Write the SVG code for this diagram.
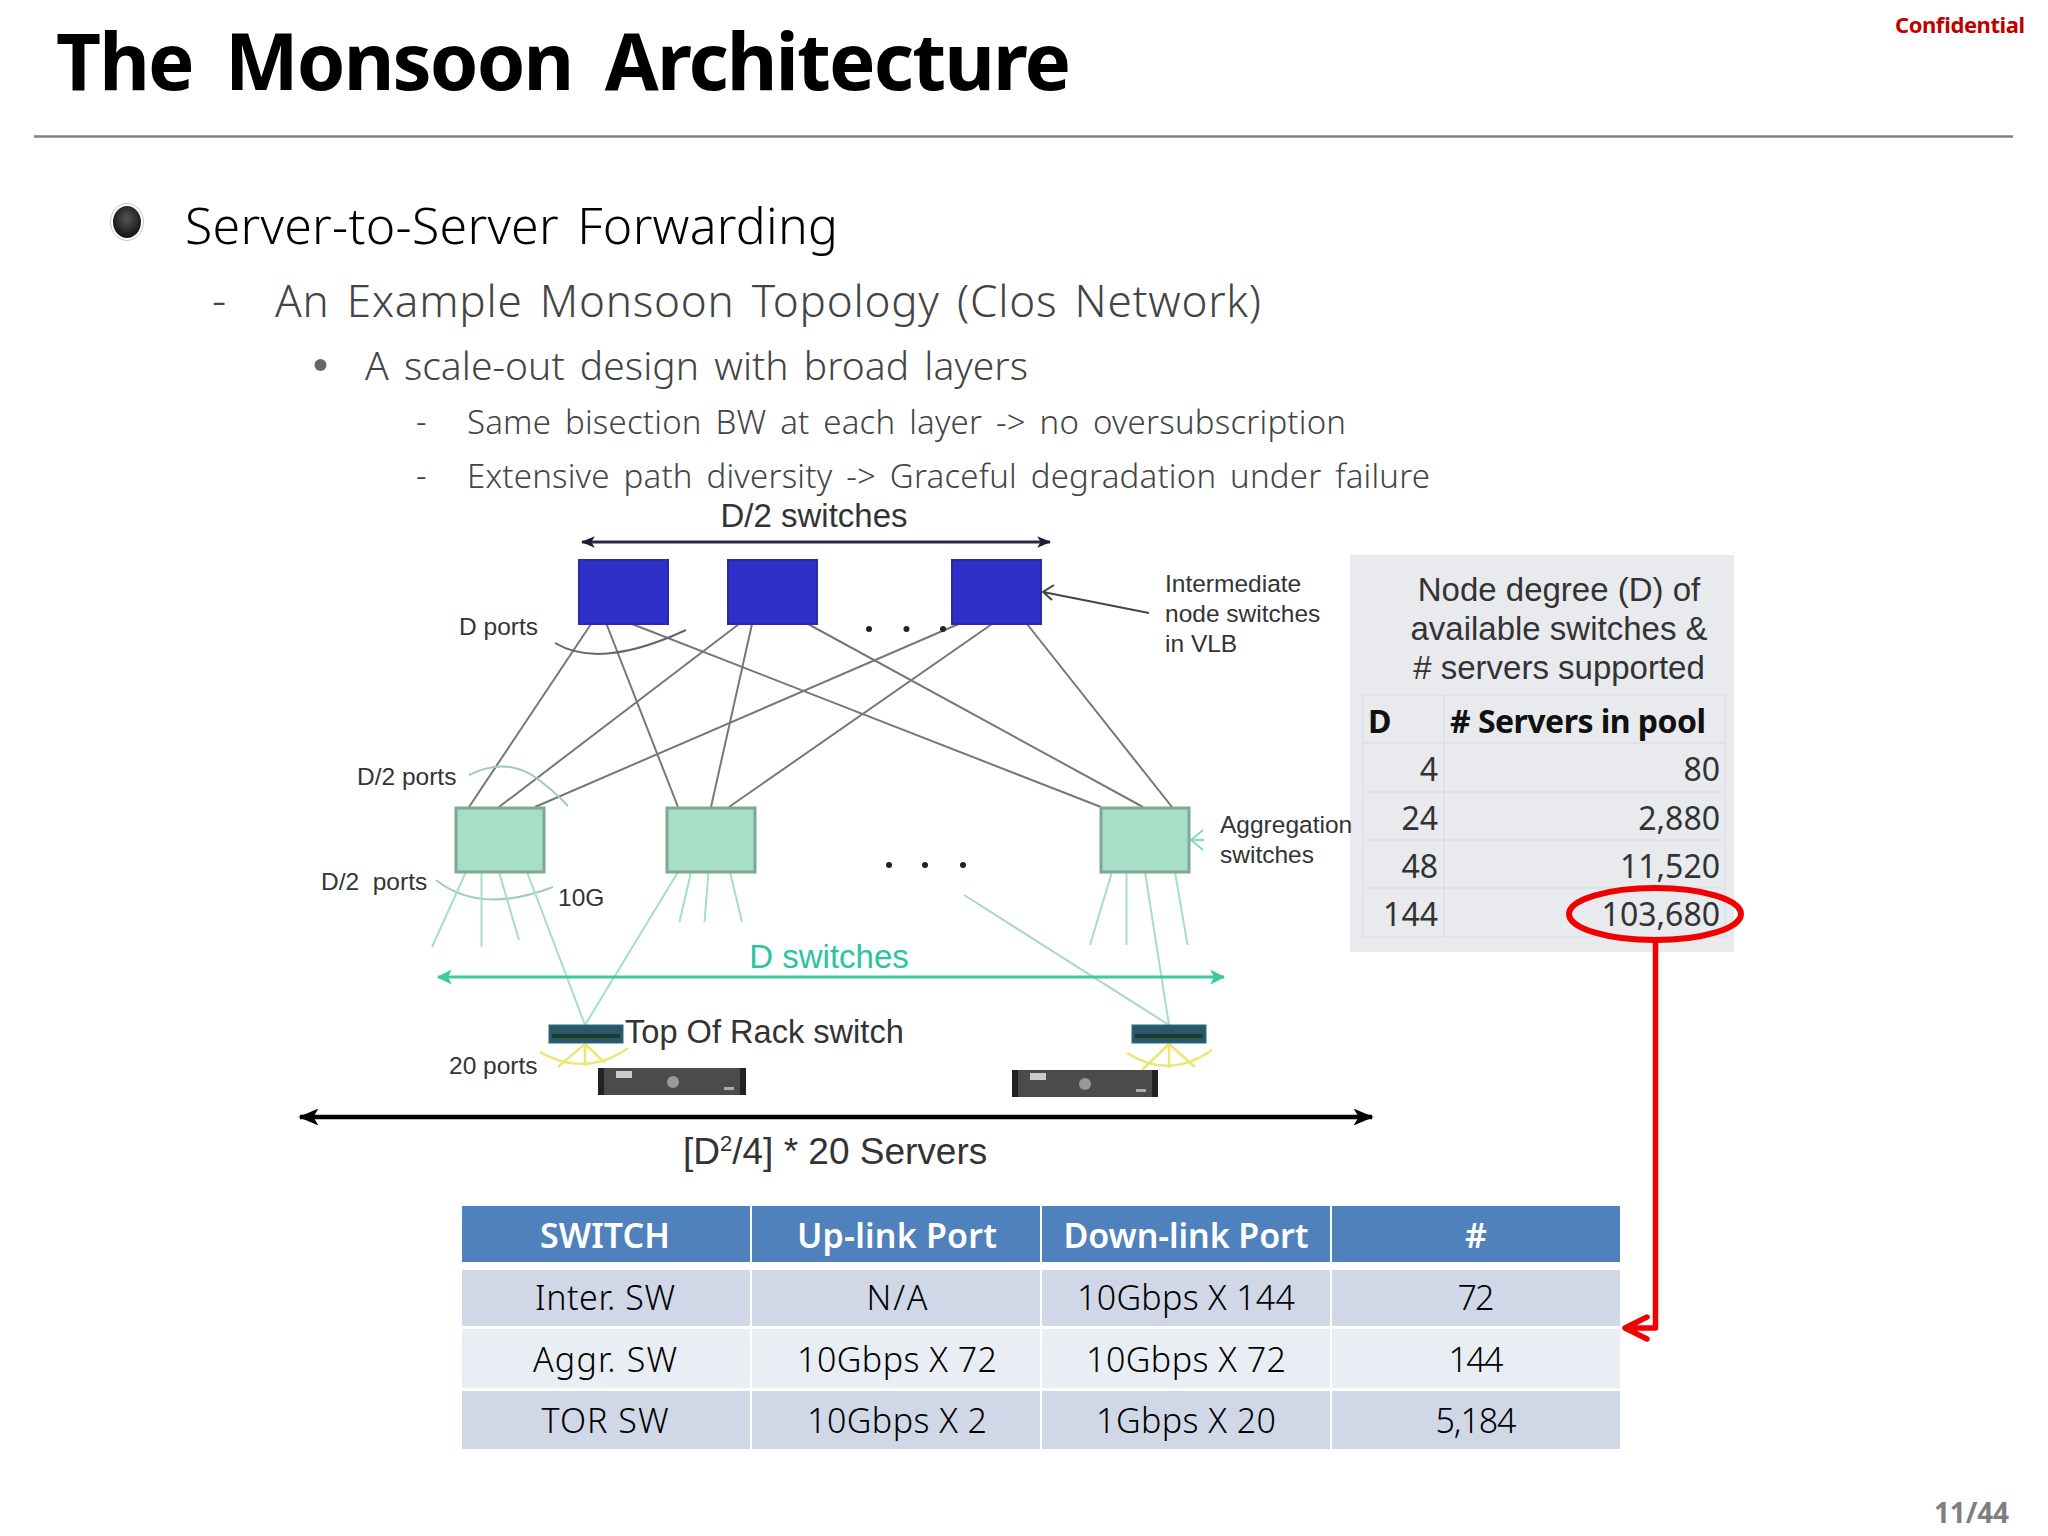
<svg xmlns="http://www.w3.org/2000/svg" width="2048" height="1536" viewBox="0 0 2048 1536">
<style>
.s{font-family:"Noto Sans","Open Sans",sans-serif}
.lt{font-weight:300;word-spacing:5px}
.l{font-family:"Liberation Sans",Arial,sans-serif;fill:#333}
.lbl{font-size:24.5px}
.big{font-size:33px}
.g{fill:#444}
.mid{text-anchor:middle}
.end{text-anchor:end}
.b{font-weight:700}
.th{font-family:"Noto Sans",sans-serif;font-size:34px;font-weight:600;fill:#fff;text-anchor:middle}
.td{font-family:"Noto Sans",sans-serif;font-size:34px;font-weight:300;fill:#000;text-anchor:middle}
.n{font-family:"Noto Sans",sans-serif;font-size:32px;fill:#333;text-anchor:end}
.blue{fill:#2f2fc9;stroke:#2a2aa6;stroke-width:2}
.green{fill:#a7dfc6;stroke:#7fa796;stroke-width:3}
.gl{stroke:#777;stroke-width:2;fill:none}
.tl{stroke:#a3dfcb;stroke-width:2;fill:none}
.ya{stroke:#efe574;stroke-width:2.5;fill:none}
.cell{fill:#d0d8e8}
.cell2{fill:#e9edf4}
.hd{fill:#4f81bd}
.tor{fill:#28586a;stroke:#2a6c80;stroke-width:1}
.srv{fill:#4b4b4b}
.rule{stroke:#dcdfe4;stroke-width:1.5}
</style>
<defs>
<radialGradient id="ball" cx="50%" cy="40%" r="60%"><stop offset="0" stop-color="#555"/><stop offset="1" stop-color="#111"/></radialGradient>
<marker id="ak" viewBox="0 0 12 10" refX="11" refY="5" markerWidth="14" markerHeight="14" markerUnits="userSpaceOnUse" orient="auto-start-reverse"><path d="M12,5 L0,0 L3,5 L0,10 Z" fill="#1c1c30"/></marker>
<marker id="at" viewBox="0 0 12 12" refX="11" refY="6" markerWidth="15" markerHeight="16" markerUnits="userSpaceOnUse" orient="auto-start-reverse"><path d="M12,6 L0,0 L3,6 L0,12 Z" fill="#3ec9a5"/></marker>
<marker id="akb" viewBox="0 0 12 10" refX="11" refY="5" markerWidth="20" markerHeight="18" markerUnits="userSpaceOnUse" orient="auto-start-reverse"><path d="M12,5 L0,0 L3,5 L0,10 Z" fill="#000"/></marker>
</defs>
<rect width="2048" height="1536" fill="#fff"/>

<g id="header">
<text class="s b" x="56" y="90" font-size="78" word-spacing="14" textLength="1015" lengthAdjust="spacing" fill="#000">The Monsoon Architecture</text>
<line x1="34" y1="136.500" x2="2013" y2="136.500" stroke="#808080" stroke-width="2.500"/>
<text class="s b" x="1895" y="33" font-size="22" textLength="130" fill="#c00000">Confidential</text>
<text class="s b" x="1934" y="1523" font-size="28" textLength="75" fill="#7f7f7f">11/44</text>
</g>

<g id="bullets">
<ellipse cx="127" cy="222" rx="16.500" ry="18.500" fill="#fff" stroke="#c8c8c8" stroke-width="1"/>
<ellipse cx="127" cy="222" rx="14" ry="16" fill="url(#ball)"/>
<text class="s lt" x="185" y="244" font-size="50" textLength="653" fill="#000">Server-to-Server Forwarding</text>
<text class="s g lt" x="212" y="316" font-size="44">-</text>
<text class="s g lt" x="275" y="317" font-size="44" textLength="986">An Example Monsoon Topology (Clos Network)</text>
<circle cx="320.500" cy="365" r="6" fill="#666"/>
<text class="s g lt" x="365" y="380" font-size="39" textLength="663">A scale-out design with broad layers</text>
<text class="s g lt" x="416" y="433" font-size="33">-</text>
<text class="s g lt" x="467" y="434" font-size="33" textLength="879">Same bisection BW at each layer -&gt; no oversubscription</text>
<text class="s g lt" x="416" y="487" font-size="33">-</text>
<text class="s g lt" x="467" y="488" font-size="33" textLength="963">Extensive path diversity -&gt; Graceful degradation under failure</text>
</g>

<g id="degree-table">
<rect x="1350" y="555" width="384" height="397" fill="#e8eaed"/>
<text class="l big mid" x="1559" y="601">Node degree (D) of</text>
<text class="l big mid" x="1559" y="640">available switches &amp;</text>
<text class="l big mid" x="1559" y="679"># servers supported</text>
<path class="rule" d="M1363,695H1725M1363,743H1725M1363,792H1725M1363,840H1725M1363,888H1725M1363,937H1725M1444,695V937M1363,695V937M1725,695V937" fill="none"/>
<text class="s b" x="1368" y="733" font-size="32" fill="#111">D</text>
<text class="s b" x="1450" y="733" font-size="32" textLength="256" fill="#111"># Servers in pool</text>
<text class="n" x="1438" y="781">4</text><text class="n" x="1720" y="781">80</text>
<text class="n" x="1438" y="830">24</text><text class="n" x="1720" y="830">2,880</text>
<text class="n" x="1438" y="878">48</text><text class="n" x="1720" y="878">11,520</text>
<text class="n" x="1438" y="926">144</text><text class="n" x="1720" y="926">103,680</text>
<ellipse cx="1655" cy="914" rx="86" ry="26" fill="none" stroke="#f00000" stroke-width="6"/>
</g>

<g id="connectors">
<g class="gl">
<path d="M591,624L469,807M606.500,624L678,807M632,624L1101,807"/>
<path d="M739,624L499,807M752,624L711,807M808,624L1143,807"/>
<path d="M958.600,624L535,807M992,624L729,807M1027,624L1172,807"/>
<path d="M555,643Q600,670 686,630" stroke="#666"/>
</g>
<path d="M1149,613L1043,592M1054,585L1043,592L1052,600" fill="none" stroke="#444" stroke-width="2"/>
<path d="M469,775Q505,757 535,777Q553,790 568,806" fill="none" stroke="#a2c9bb" stroke-width="2"/>
<path d="M436,880Q480,915 553,887" fill="none" stroke="#a2c9bb" stroke-width="2"/>
<g class="tl">
<path d="M466,872L432,947M481.500,872L481.500,947M499,872L519,940M527,872L585,1025"/>
<path d="M678,872L585,1025M691,872L679.500,922M708.500,872L704.500,922M730,872L742,922"/>
<path d="M964,895L1169,1025" stroke="#a9d8c8"/>
<path d="M1112,872L1090,945M1126.500,872L1126.500,945M1145,872L1169,1025M1175,872L1187.500,945"/>
</g>
<path d="M1204,840L1191,840M1203,830L1191,840L1203,850" fill="none" stroke="#7ddcbc" stroke-width="2"/>
<g class="ya">
<path d="M585,1044L558,1067M585,1044L585,1066M585,1044L605,1063M540,1052Q585,1078 628,1048"/>
<path d="M1169,1044L1142,1070M1169,1044L1169,1068M1169,1044L1195,1067M1127,1053Q1169,1080 1212,1050"/>
</g>
<line x1="582" y1="542" x2="1050" y2="542" stroke="#2a2a40" stroke-width="3" marker-start="url(#ak)" marker-end="url(#ak)"/>
<line x1="438" y1="977" x2="1224" y2="977" stroke="#3ec9a5" stroke-width="3" marker-start="url(#at)" marker-end="url(#at)"/>
<line x1="300" y1="1117" x2="1372" y2="1117" stroke="#000" stroke-width="4.500" marker-start="url(#akb)" marker-end="url(#akb)"/>
<path d="M1655.500,940V1328H1625M1647,1317L1625,1328L1647,1339" fill="none" stroke="#f00000" stroke-width="5.500" stroke-linecap="round" stroke-linejoin="round"/>
</g>

<g id="inter-switches">
<rect id="inter-1" class="blue" x="579" y="560" width="89" height="64"/>
<rect id="inter-2" class="blue" x="728" y="560" width="89" height="64"/>
<rect id="inter-3" class="blue" x="952" y="560" width="89" height="64"/>
</g>
<g id="agg-switches">
<rect id="agg-1" class="green" x="456" y="808" width="88" height="64"/>
<rect id="agg-2" class="green" x="667" y="808" width="88" height="64"/>
<rect id="agg-3" class="green" x="1101" y="808" width="88" height="64"/>
</g>
<g id="dots" fill="#222">
<circle cx="869" cy="629" r="3"/><circle cx="906.500" cy="629" r="3"/><circle cx="943" cy="629" r="3"/>
<circle cx="889" cy="865" r="3"/><circle cx="925" cy="865" r="3"/><circle cx="963" cy="865" r="3"/>
</g>
<g id="tor-1"><rect class="tor" x="549" y="1025" width="74" height="18"/><rect x="552" y="1034" width="68" height="4" fill="#1e3c30"/></g>
<g id="tor-2"><rect class="tor" x="1132" y="1025" width="74" height="18"/><rect x="1135" y="1034" width="68" height="4" fill="#1e3c30"/></g>
<g id="server-1"><rect class="srv" x="598" y="1068" width="148" height="27"/><rect x="598" y="1068" width="6" height="27" fill="#222"/><rect x="740" y="1068" width="6" height="27" fill="#222"/><rect x="616" y="1071" width="16" height="7" fill="#ccc"/><circle cx="673" cy="1082" r="6" fill="#999"/><rect x="724" y="1087" width="10" height="3" fill="#aaa"/></g>
<g id="server-2"><rect class="srv" x="1012" y="1070" width="146" height="27"/><rect x="1012" y="1070" width="6" height="27" fill="#222"/><rect x="1152" y="1070" width="6" height="27" fill="#222"/><rect x="1030" y="1073" width="16" height="7" fill="#ccc"/><circle cx="1085" cy="1084" r="6" fill="#999"/><rect x="1136" y="1089" width="10" height="3" fill="#aaa"/></g>

<g id="topology-labels">
<text class="l big mid" x="814" y="527">D/2 switches</text>
<text class="l big mid" x="829" y="968" style="fill:#2cc4a0">D switches</text>
<text class="l lbl" x="459" y="635">D ports</text>
<text class="l lbl" x="357" y="785">D/2 ports</text>
<text class="l lbl" x="321" y="890" xml:space="preserve">D/2  ports</text>
<text class="l lbl" x="558" y="906">10G</text>
<text class="l lbl" x="449" y="1074">20 ports</text>
<text class="l lbl" x="1165" y="592">Intermediate</text>
<text class="l lbl" x="1165" y="622">node switches</text>
<text class="l lbl" x="1165" y="652">in VLB</text>
<text class="l lbl" x="1220" y="833">Aggregation</text>
<text class="l lbl" x="1220" y="863">switches</text>
<text class="l" x="625" y="1043" font-size="32.600">Top Of Rack switch</text>
<text class="l" x="683" y="1164" font-size="37">[D<tspan font-size="22" dy="-13">2</tspan><tspan dy="13">/4] * 20 Servers</tspan></text>
</g>

<g id="switch-table">
<rect class="hd" x="462" y="1206" width="288" height="56"/><rect class="hd" x="752" y="1206" width="288" height="56"/><rect class="hd" x="1042" y="1206" width="288" height="56"/><rect class="hd" x="1332" y="1206" width="288" height="56"/>
<rect class="cell" x="462" y="1270" width="288" height="56"/><rect class="cell" x="752" y="1270" width="288" height="56"/><rect class="cell" x="1042" y="1270" width="288" height="56"/><rect class="cell" x="1332" y="1270" width="288" height="56"/>
<rect class="cell2" x="462" y="1329" width="288" height="59"/><rect class="cell2" x="752" y="1329" width="288" height="59"/><rect class="cell2" x="1042" y="1329" width="288" height="59"/><rect class="cell2" x="1332" y="1329" width="288" height="59"/>
<rect class="cell" x="462" y="1391" width="288" height="58"/><rect class="cell" x="752" y="1391" width="288" height="58"/><rect class="cell" x="1042" y="1391" width="288" height="58"/><rect class="cell" x="1332" y="1391" width="288" height="58"/>
<text class="th" x="605" y="1248" textLength="130">SWITCH</text><text class="th" x="897" y="1248" textLength="200">Up-link Port</text><text class="th" x="1186" y="1248" textLength="245">Down-link Port</text><text class="th" x="1476" y="1248">#</text>
<text class="td" x="605" y="1310" textLength="140">Inter. SW</text><text class="td" x="897" y="1310" textLength="61">N/A</text><text class="td" x="1186" y="1310" textLength="218">10Gbps X 144</text><text class="td" x="1476" y="1310" textLength="37">72</text>
<text class="td" x="605" y="1372" textLength="144">Aggr. SW</text><text class="td" x="897" y="1372" textLength="200">10Gbps X 72</text><text class="td" x="1186" y="1372" textLength="200">10Gbps X 72</text><text class="td" x="1476" y="1372" textLength="55">144</text>
<text class="td" x="605" y="1433" textLength="127">TOR SW</text><text class="td" x="897" y="1433" textLength="180">10Gbps X 2</text><text class="td" x="1186" y="1433" textLength="180">1Gbps X 20</text><text class="td" x="1476" y="1433" textLength="81">5,184</text>
</g>
</svg>
